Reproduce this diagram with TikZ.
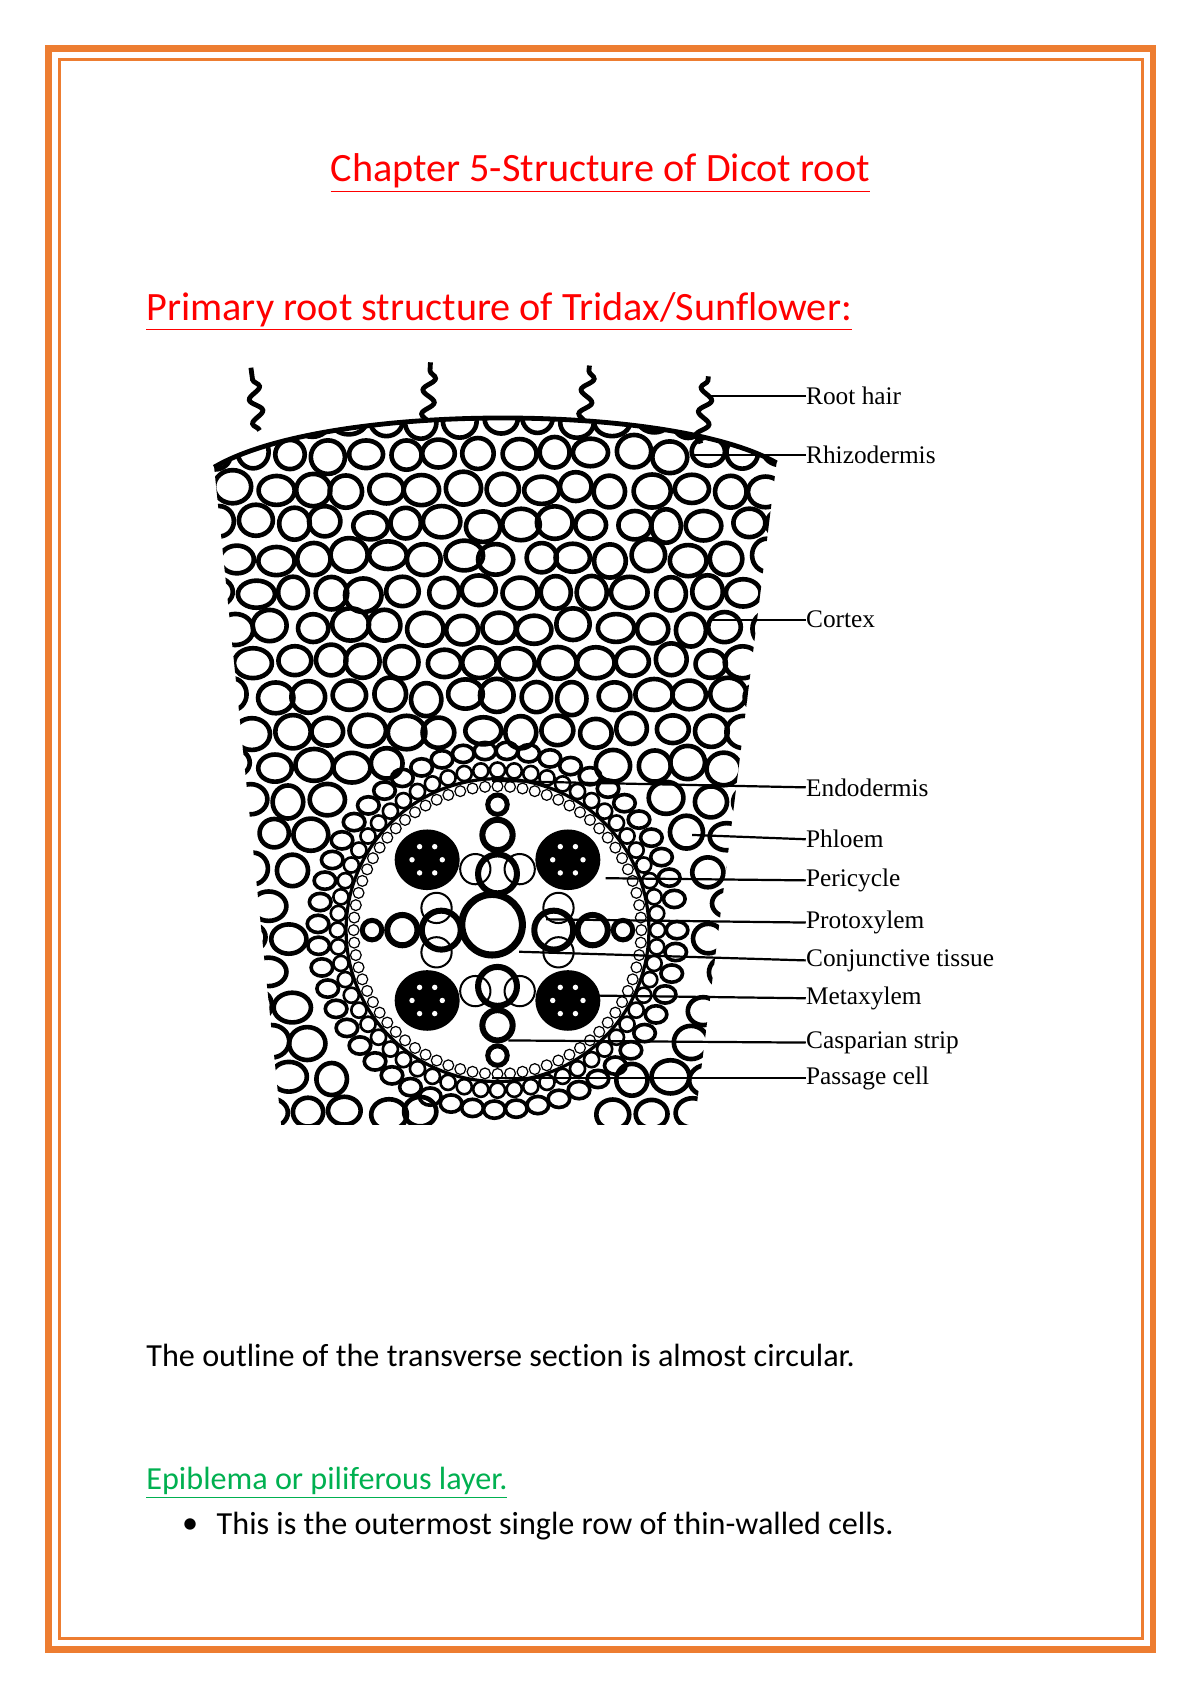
\documentclass[tikz,border=0pt]{standalone}
\usepackage{fontspec}
\setmainfont{Carlito}[Ligatures=NoCommon]
\newfontfamily\labfont{Liberation Serif}
\usetikzlibrary{decorations.pathmorphing}
\definecolor{frame}{RGB}{237,125,49}
\definecolor{titred}{RGB}{255,0,0}
\definecolor{grn}{RGB}{0,176,80}
\begin{document}
\begin{tikzpicture}[x=0.0189cm,y=-0.0189cm,
  cell/.style={line width=2.3pt},
  lab/.style={anchor=west,font=\labfont\fontsize{12.6}{14}\selectfont,inner sep=0pt},
  lead/.style={line width=1.1pt},
  hair/.style={line width=2.4pt,decorate,decoration={snake,amplitude=3,segment length=12}}]
\useasboundingbox (0,0) rectangle (1110,1570);
\draw[frame,line width=3.2pt] (45,45) rectangle (1066,1525);
\draw[frame,line width=1.6pt] (55,55) rectangle (1056,1515);
\node[titred,font=\fontsize{20}{24}\selectfont] (title) at (555,160) {\underline{Chapter 5-Structure of Dicot root}};
\node[titred,font=\fontsize{20}{24}\selectfont,anchor=west,inner sep=0pt] (head) at (135,288) {\underline{Primary root structure of Tridax/Sunflower:}};
% diagram
\begin{scope}
\clip (198,432) .. controls (300,372) and (620,372) .. (718,428) -- (642,1040) -- (260,1040) -- cycle;
\pgfmathsetseed{7}
\foreach \r in {0,...,20}{
 \foreach \c in {0,...,16}{
  \pgfmathsetmacro\cx{182+\c*35+mod(\r,2)*17+rand*4}
  \pgfmathsetmacro\cy{388+\r*32+rand*3}
  \pgfmathsetmacro\dd{veclen(\cx-460,\cy-860)}
  \ifdim\dd pt>182pt
   \draw[cell] (\cx,\cy) ellipse[x radius={15.5+rand*2},y radius={14+rand*1.5}];
  \fi
 }}
\end{scope}
\draw[line width=2.4pt] (198,432) .. controls (300,372) and (620,372) .. (718,428);
% stele
\foreach \a in {0,7,...,353}{\draw[cell,line width=1.8pt] (460,860) ++(\a:166) ellipse[x radius=10,y radius=8];}
\foreach \a in {0,6,...,354}{\draw[line width=1.3pt] (460,860) ++(\a:148) circle[radius=7];}
\foreach \a in {0,5,...,355}{\draw[line width=0.6pt] (460,860) ++(\a:133) circle[radius=5];}
\draw[line width=1.6pt] (460,860) circle[radius=140];
\foreach \a in {45,135,225,315}{
 \fill (460,860) ++(\a:92) ellipse[x radius=30,y radius=28];
 \foreach \b in {0,60,...,300}{\fill[white] (460,860) ++(\a:92) ++(\b:14) circle[radius=2.5];}
}
\foreach \a in {0,90,180,270}{
 \draw[line width=3pt] (460,860) ++(\a:52) circle[radius=18];
 \draw[line width=3pt] (460,860) ++(\a:88) circle[radius=14];
 \draw[line width=2.5pt] (460,860) ++(\a:116) circle[radius=9];
}
\draw[line width=3.5pt] (455,855) circle[radius=28];
\foreach \a in {20,70,110,160,200,250,290,340}{\draw[line width=1pt] (460,860) ++(\a:60) circle[radius=14];}
% root hairs
\draw[hair] (240,398) -- (232,340);
\draw[hair] (395,390) -- (398,335);
\draw[hair] (540,390) -- (545,338);
\draw[hair] (648,410) -- (655,348);
% labels
\node[lab] (l1) at (745,366) {Root hair};
\node[lab] (l2) at (745,421) {Rhizodermis};
\node[lab] (l3) at (745,573) {Cortex};
\node[lab] (l4) at (745,728) {Endodermis};
\node[lab] (l5) at (745,776) {Phloem};
\node[lab] (l6) at (745,814) {Pericycle};
\node[lab] (l7) at (745,853) {Protoxylem};
\node[lab] (l8) at (745,888) {Conjunctive tissue};
\node[lab] (l9) at (745,923) {Metaxylem};
\node[lab] (l10) at (745,964) {Casparian strip};
\node[lab] (l11) at (745,997) {Passage cell};
\coordinate (p1) at (655,366); \coordinate (p2) at (640,421);
\coordinate (p3) at (655,573); \coordinate (p4) at (455,722);
\coordinate (p5) at (640,772); \coordinate (p6) at (560,812);
\coordinate (p7) at (505,850); \coordinate (p8) at (480,880);
\coordinate (p9) at (510,920); \coordinate (p10) at (470,962);
\coordinate (p11) at (455,997);
\foreach \i in {1,...,11}{\draw[lead] (p\i) -- (l\i.west);}
% text
\node[anchor=west,inner sep=0pt,font=\fontsize{16}{19}\selectfont] (t1) at (135,1253) {The outline of the transverse section is almost circular.};
\node[anchor=west,inner sep=0pt,font=\fontsize{16}{19}\selectfont,grn] (t2) at (135,1371) {\underline{Epiblema or piliferous layer.}};
\node[anchor=west,inner sep=0pt,font=\fontsize{16}{19}\selectfont] (b1) at (168,1411) {\textbullet};
\node[anchor=west,inner sep=0pt,font=\fontsize{16}{19}\selectfont] (t3) at (200,1411) {This is the outermost single row of thin-walled cells.};
\end{tikzpicture}
\end{document}
